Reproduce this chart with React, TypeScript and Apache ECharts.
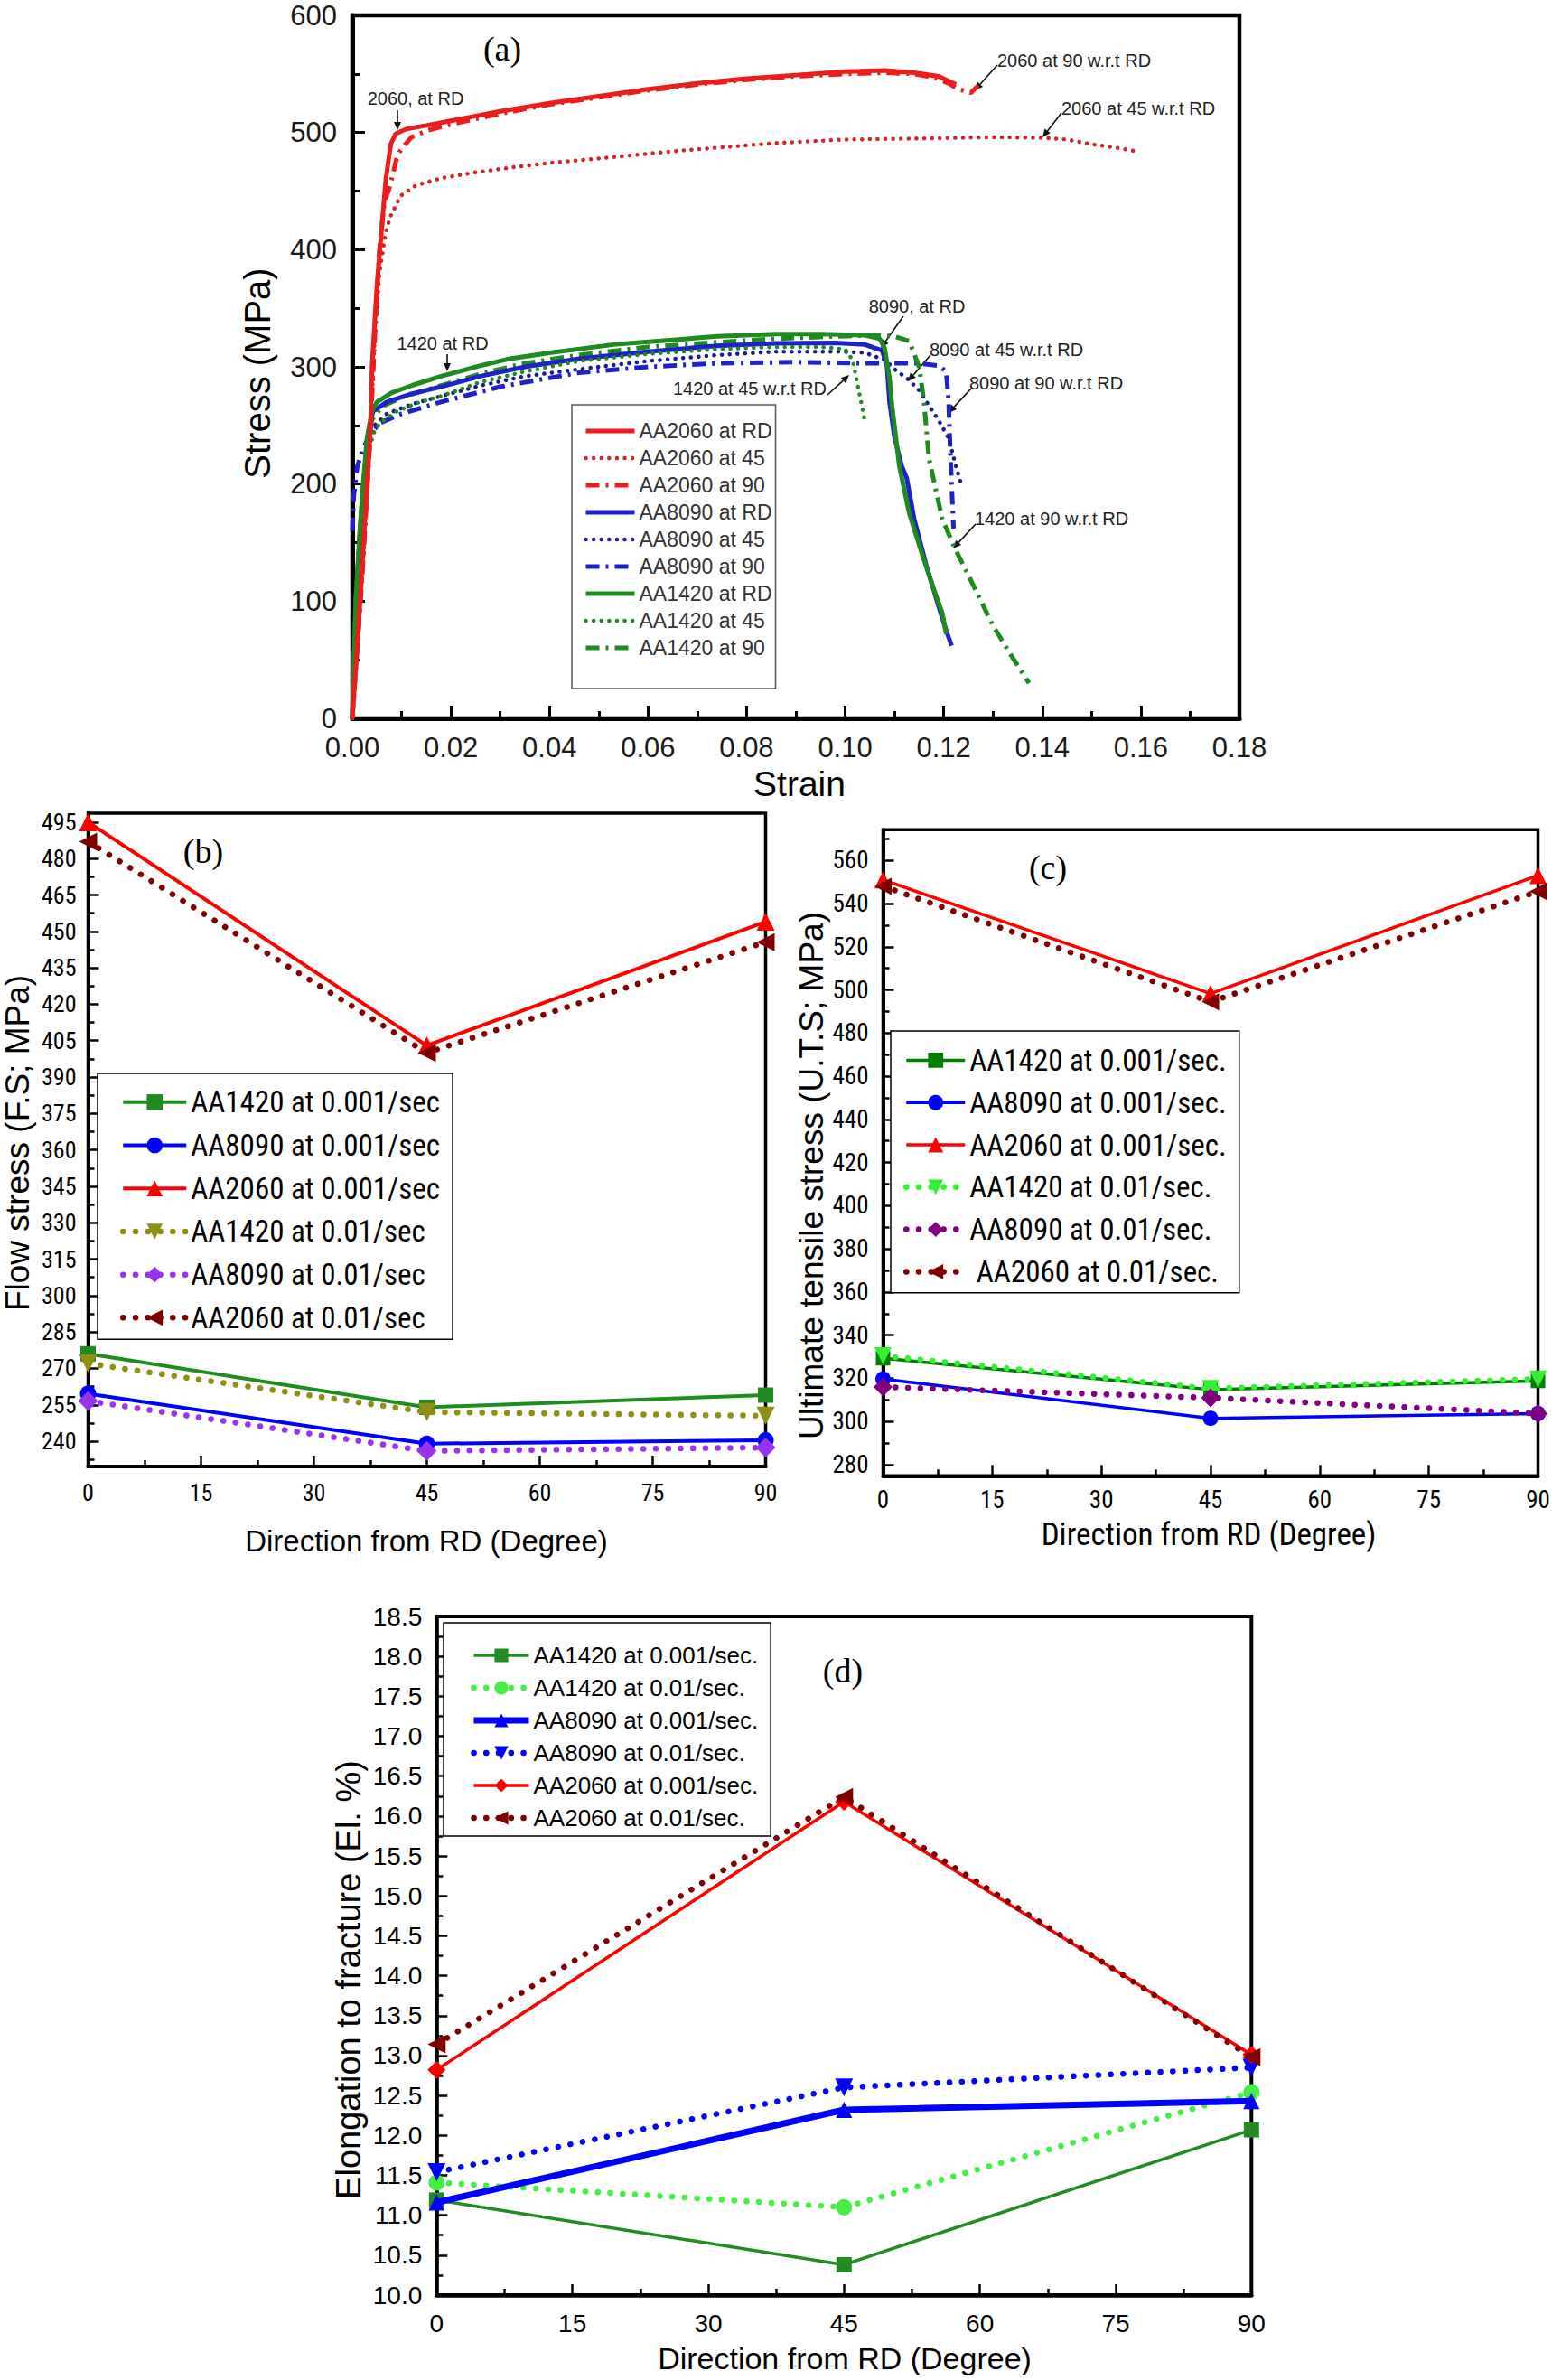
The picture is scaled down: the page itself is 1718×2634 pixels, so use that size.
import React, { useEffect, useRef } from 'react';
import * as echarts from 'echarts';

// ================= DATA =================
// Panel (a): engineering stress-strain curves, points are [strain, stress (MPa)]
const aa2060AtRD = [[0,0],[0.001,60],[0.002,130],[0.003,200],[0.0036,240],[0.004,300],[0.005,370],[0.0058,410],[0.0068,460],[0.0078,490],[0.0088,499],[0.011,503],[0.015,506],[0.02,510],[0.03,518],[0.04,525],[0.05,531],[0.06,537],[0.07,542],[0.08,546],[0.09,549],[0.1,552],[0.108,553],[0.114,551],[0.119,548],[0.1225,541]];
const aa2060At45 = [[0,0],[0.002,120],[0.0035,230],[0.0045,320],[0.0055,380],[0.0068,415],[0.0077,428],[0.0098,446],[0.013,455],[0.018,461],[0.025,466],[0.032,470],[0.04,474],[0.053,479],[0.065,484],[0.074,487],[0.086,491],[0.1,494],[0.117,495],[0.13,496],[0.14,495.5],[0.145,494],[0.15,490],[0.155,487],[0.159,484]];
const aa2060At90 = [[0,0],[0.002,120],[0.0035,230],[0.0045,320],[0.0055,400],[0.0065,440],[0.0077,455],[0.009,478],[0.0098,485],[0.012,496],[0.0154,502],[0.02,507],[0.03,516],[0.04,524],[0.05,530],[0.06,536],[0.07,541],[0.08,545],[0.09,548],[0.1,550],[0.108,551],[0.114,550],[0.118,547],[0.121,542],[0.123,537],[0.1255,534],[0.127,540]];
const aa8090AtRD = [[0,0],[0.0008,100],[0.0016,160],[0.0025,210],[0.0033,245],[0.0042,262],[0.007,270],[0.012,277],[0.018,283],[0.026,292],[0.035,300],[0.046,307],[0.06,313],[0.074,318],[0.086,320],[0.098,320.5],[0.104,319],[0.1075,314],[0.1085,300],[0.109,270],[0.11,240],[0.1115,215],[0.1125,205],[0.114,170],[0.1165,130],[0.119,95],[0.1205,75],[0.1216,62]];
const aa8090At45 = [[0,0],[0.001,90],[0.002,170],[0.003,225],[0.0045,250],[0.007,260],[0.012,268],[0.018,275],[0.026,284],[0.035,292],[0.046,298],[0.06,305],[0.074,310],[0.086,313],[0.098,313],[0.104,312],[0.108,306],[0.11,298],[0.1126,290],[0.115,280],[0.117,267],[0.119,254],[0.121,239],[0.1223,218],[0.1236,199]];
const aa8090At90 = [[0,160],[0.0003,190],[0.001,215],[0.0021,229],[0.0035,242],[0.0056,252],[0.01,260],[0.018,270],[0.03,283],[0.046,295],[0.06,300],[0.074,303],[0.09,304],[0.105,303],[0.115,303],[0.119,301],[0.1205,296],[0.121,270],[0.1213,230],[0.1217,190],[0.122,162]];
const aa1420AtRD = [[0,0],[0.0007,100],[0.0015,160],[0.0022,200],[0.003,240],[0.004,262],[0.005,270],[0.008,278],[0.012,284],[0.018,292],[0.026,301],[0.032,307],[0.04,312],[0.053,319],[0.065,323],[0.074,326],[0.086,328],[0.095,328],[0.104,327],[0.107,324],[0.108,316],[0.109,290],[0.1095,267],[0.111,215],[0.113,175],[0.1157,139],[0.118,110],[0.1197,90],[0.1205,72]];
const aa1420At45 = [[0,0],[0.0008,100],[0.0018,170],[0.003,225],[0.0045,245],[0.0056,252],[0.009,262],[0.013,269],[0.018,275],[0.026,287],[0.035,296],[0.046,305],[0.06,311],[0.074,315],[0.086,317],[0.095,317],[0.1,315],[0.1015,306],[0.102,296],[0.103,275],[0.1034,267],[0.104,253]];
const aa1420At90 = [[0,0],[0.0007,100],[0.0017,170],[0.0027,225],[0.004,255],[0.006,266],[0.01,274],[0.018,284],[0.026,294],[0.035,303],[0.046,310],[0.06,317],[0.074,321],[0.086,324],[0.098,326],[0.106,327],[0.11,326],[0.113,322],[0.115,300],[0.116,270],[0.117,222],[0.1197,170],[0.1223,145],[0.1263,111],[0.13,79],[0.1335,55],[0.1373,30]];

// Panels (b)-(d): direction from RD (degree)
const directions = [0, 45, 90];

// (b) Flow stress (MPa)
const fs1420Slow = [276, 254, 259];
const fs8090Slow = [259.6, 239, 240.4];
const fs2060Slow = [495, 403, 454];
const fs1420Fast = [272, 252, 250.5];
const fs8090Fast = [256.6, 236, 237.4];
const fs2060Fast = [487, 400, 445.6];
const fsTickLabels = [240, 255, 270, 285, 300, 315, 330, 345, 360, 375, 390, 405, 420, 435, 450, 465, 480, 495];

// (c) Ultimate tensile stress (MPa)
const uts1420Slow = [329.3, 314.8, 318.8];
const uts8090Slow = [319.7, 301.5, 303.7];
const uts2060Slow = [551, 498.3, 553];
const uts1420Fast = [330.4, 315.3, 319.7];
const uts8090Fast = [316, 311, 303.7];
const uts2060Fast = [548, 494.5, 545.6];
const utsTickLabels = [280, 300, 320, 340, 360, 380, 400, 420, 440, 460, 480, 500, 520, 540, 560];

// (d) Elongation to fracture (%)
const el1420Slow = [11.19, 10.38, 12.07];
const el1420Fast = [11.41, 11.10, 12.54];
const el8090Slow = [11.16, 12.32, 12.43];
const el8090Fast = [11.54, 12.60, 12.85];
const el2060Slow = [12.82, 16.18, 13.01];
const el2060Fast = [13.14, 16.24, 12.98];

// ================= STYLE HELPERS =================
const NARROW = "'Liberation Sans Narrow', 'Arial Narrow', 'Roboto Condensed', 'Liberation Sans', Arial, sans-serif";
const SANS = "'Liberation Sans', Arial, Helvetica, sans-serif";
const SERIF = "'Liberation Serif', 'Times New Roman', serif";

const pts = (vals: number[]) => directions.map((d, i) => [d, vals[i]]);

function arrowEls(x1: number, y1: number, x2: number, y2: number, ox = 0, oy = 0) {
  const ang = Math.atan2(y2 - y1, x2 - x1);
  const L = 9, W = 4;
  const bx = x2 - L * Math.cos(ang), by = y2 - L * Math.sin(ang);
  const nx = -Math.sin(ang) * W, ny = Math.cos(ang) * W;
  return [
    { type: 'line', silent: true, shape: { x1: x1 - ox, y1: y1 - oy, x2: bx - ox, y2: by - oy }, style: { stroke: '#111', lineWidth: 1.6 } },
    { type: 'polygon', silent: true, shape: { points: [[x2 - ox, y2 - oy], [bx + nx - ox, by + ny - oy], [bx - nx - ox, by - ny - oy]] }, style: { fill: '#111' } },
  ];
}

function textEl(text: string, x: number, y: number, fontSize: number, fontFamily: string, opts: any = {}) {
  return {
    type: 'text', silent: true, x, y, rotation: opts.rotation || 0,
    style: {
      text, fontSize, fontFamily, fill: opts.fill || '#000',
      align: opts.align || 'center', verticalAlign: 'middle',
    },
  };
}

function xAxisDeg(fontFamily: string, fontSize: number, margin: number, lw: number) {
  return {
    type: 'value', min: 0, max: 90, interval: 15,
    axisLine: { show: true, onZero: false, lineStyle: { color: '#000', width: lw } },
    axisTick: { show: true, inside: true, length: 12, lineStyle: { color: '#000', width: 2.5 } },
    minorTick: { show: true, splitNumber: 2, length: 7, lineStyle: { color: '#000', width: 2.5 } },
    axisLabel: { fontFamily, fontSize, color: '#000', margin },
    splitLine: { show: false }, minorSplitLine: { show: false },
  };
}

function customY(min: number, max: number, labels: number[], minors: number[], fontFamily: string, fontSize: number, margin: number, lw: number) {
  return [
    {
      type: 'value', min, max, position: 'left',
      axisLine: { show: true, onZero: false, lineStyle: { color: '#000', width: lw } },
      axisTick: { show: true, inside: true, length: 12, customValues: labels, lineStyle: { color: '#000', width: 2.5 } },
      axisLabel: { customValues: labels, fontFamily, fontSize, color: '#000', margin },
      splitLine: { show: false },
    },
    {
      type: 'value', min, max, position: 'left',
      axisLine: { show: false },
      axisTick: { show: true, inside: true, length: 7, customValues: minors, lineStyle: { color: '#000', width: 2.5 } },
      axisLabel: { show: false },
      splitLine: { show: false },
    },
  ];
}

function halfSteps(labels: number[], min: number, max: number) {
  const step = labels[1] - labels[0];
  const out: number[] = [];
  for (let v = labels[0] - step / 2; v <= max; v += step) if (v >= min) out.push(v);
  return out;
}

function markerSeries(name: string, vals: number[], color: string, symbol: string, rotate: number, dotted: boolean, width: number, size: number, z: number) {
  return {
    name, type: 'line', data: pts(vals), symbol, symbolSize: size, symbolRotate: rotate,
    lineStyle: dotted ? { color, width, type: [0.1, width * 2.1], cap: 'round' } : { color, width },
    itemStyle: { color }, z, silent: true,
  };
}

// ================= PANEL (a) =================
function optionA() {
  const RED = '#ec1d1d', RED2 = '#d42626', GREEN = '#1f8a1f', BLUE = '#1f22c8', NAVY = '#1b1b8e';
  const solid = (c: string) => ({ color: c, width: 5 });
  const dot = (c: string) => ({ color: c, width: 4.5, type: [0.1, 8.5], cap: 'round' });
  const dashdot = (c: string) => ({ color: c, width: 5, type: [15, 7, 3, 7] });
  const s = (name: string, data: number[][], ls: any, z: number) => ({
    name, type: 'line', data, symbol: 'none', showSymbol: false, lineStyle: ls, itemStyle: { color: ls.color }, z, silent: true,
  });
  const graphic: any[] = [
    textEl('(a)', 556, 54, 38, SERIF),
    textEl('Stress (MPa)', 285, 413, 40, SANS, { rotation: Math.PI / 2 }),
    textEl('Strain', 885, 867, 39, SANS),
    textEl('2060, at RD', 460, 109, 20, SANS, { fill: '#222' }),
    textEl('1420 at RD', 490, 380, 20, SANS, { fill: '#222' }),
    textEl('2060 at 90 w.r.t RD', 1104, 67, 20, SANS, { align: 'left', fill: '#222' }),
    textEl('2060 at 45 w.r.t RD', 1175, 120, 20, SANS, { align: 'left', fill: '#222' }),
    textEl('8090, at RD', 1015, 339, 20, SANS, { fill: '#222' }),
    textEl('8090 at 45 w.r.t RD', 1029, 387, 20, SANS, { align: 'left', fill: '#222' }),
    textEl('8090 at 90 w.r.t RD', 1073, 424, 20, SANS, { align: 'left', fill: '#222' }),
    textEl('1420 at 90 w.r.t RD', 1079, 574, 20, SANS, { align: 'left', fill: '#222' }),
    textEl('1420 at 45 w.r.t RD', 915, 430, 20, SANS, { align: 'right', fill: '#222' }),
    ...arrowEls(440, 122, 440, 144),
    ...arrowEls(495, 392, 495, 411),
    ...arrowEls(1104, 72, 1079, 100),
    ...arrowEls(1175, 125, 1154, 152),
    ...arrowEls(1000, 350, 975, 385),
    ...arrowEls(1030, 393, 1005, 422),
    ...arrowEls(1075, 430, 1050, 457),
    ...arrowEls(1080, 580, 1055, 607),
    ...arrowEls(916, 437, 940, 415),
  ];
  return {
    animation: false,
    backgroundColor: 'transparent',
    grid: { left: 390, top: 17, width: 982, height: 778, show: true, borderColor: '#000', borderWidth: 4.5, containLabel: false, outerBoundsMode: 'none' },
    xAxis: {
      type: 'value', min: 0, max: 0.18, interval: 0.02,
      axisLine: { show: true, onZero: false, lineStyle: { color: '#000', width: 5 } },
      axisTick: { show: true, inside: true, length: 14, lineStyle: { color: '#000', width: 3 } },
      minorTick: { show: true, splitNumber: 2, length: 8, lineStyle: { color: '#000', width: 3 } },
      axisLabel: { fontFamily: SANS, fontSize: 31, color: '#1a1a1a', margin: 17, formatter: (v: number) => v.toFixed(2) },
      splitLine: { show: false },
    },
    yAxis: {
      type: 'value', min: 0, max: 600, interval: 100,
      axisLine: { show: true, onZero: false, lineStyle: { color: '#000', width: 5 } },
      axisTick: { show: true, inside: true, length: 14, lineStyle: { color: '#000', width: 3 } },
      minorTick: { show: true, splitNumber: 2, length: 8, lineStyle: { color: '#000', width: 3 } },
      axisLabel: { fontFamily: SANS, fontSize: 31, color: '#1a1a1a', margin: 17 },
      splitLine: { show: false },
    },
    legend: {
      orient: 'vertical', left: 633, top: 448, padding: [14, 4, 30, 13],
      itemWidth: 54, itemHeight: 10, itemGap: 0, selectedMode: false,
      borderColor: '#555', borderWidth: 1.5, backgroundColor: '#fff',
      itemStyle: { opacity: 0 },
      lineStyle: { width: 'inherit' },
      textStyle: { fontFamily: SANS, fontSize: 23, color: '#333', lineHeight: 30 },
      data: ['AA2060 at RD', 'AA2060 at 45', 'AA2060 at 90', 'AA8090 at RD', 'AA8090 at 45', 'AA8090 at 90', 'AA1420 at RD', 'AA1420 at 45', 'AA1420 at 90'],
    },
    series: [
      s('AA2060 at RD', aa2060AtRD, solid(RED), 9),
      s('AA2060 at 45', aa2060At45, dot(RED2), 8),
      s('AA2060 at 90', aa2060At90, dashdot(RED), 7),
      s('AA8090 at RD', aa8090AtRD, solid(BLUE), 5),
      s('AA8090 at 45', aa8090At45, dot(NAVY), 4),
      s('AA8090 at 90', aa8090At90, dashdot(BLUE), 3),
      s('AA1420 at RD', aa1420AtRD, solid(GREEN), 6),
      s('AA1420 at 45', aa1420At45, dot(GREEN), 5),
      s('AA1420 at 90', aa1420At90, dashdot(GREEN), 4),
    ],
    graphic: { elements: graphic },
  };
}

// ================= PANEL (b) =================
function optionB() {
  const ox = 0, oy = 890;
  const min = 229.6, max = 498.7;
  return {
    animation: false,
    grid: { left: 97.5, top: 10, width: 750, height: 723, show: true, borderColor: '#000', borderWidth: 3.5, containLabel: false, outerBoundsMode: 'none' },
    xAxis: xAxisDeg(NARROW, 26, 16, 4),
    yAxis: customY(min, max, fsTickLabels, halfSteps(fsTickLabels, min, max), NARROW, 26, 13, 4),
    legend: {
      orient: 'vertical', left: 108 - ox, top: 1188 - oy, padding: [8, 14, 0, 25],
      itemWidth: 70, itemHeight: 22, itemGap: 0, selectedMode: false,
      borderColor: '#000', borderWidth: 1.5, backgroundColor: '#fff',
      lineStyle: { width: 'inherit' },
      textStyle: { fontFamily: NARROW, fontSize: 33, color: '#000', lineHeight: 47.7 },
      data: ['AA1420 at 0.001/sec', 'AA8090 at 0.001/sec', 'AA2060 at 0.001/sec', 'AA1420 at 0.01/sec', 'AA8090 at 0.01/sec', 'AA2060 at 0.01/sec'],
    },
    series: [
      markerSeries('AA1420 at 0.001/sec', fs1420Slow, '#1f8c1f', 'rect', 0, false, 4, 17, 5),
      markerSeries('AA8090 at 0.001/sec', fs8090Slow, '#0000ff', 'circle', 0, false, 4, 18, 5),
      markerSeries('AA2060 at 0.001/sec', fs2060Slow, '#ff0000', 'triangle', 0, false, 4, 20, 5),
      markerSeries('AA1420 at 0.01/sec', fs1420Fast, '#8f8f12', 'triangle', 180, true, 6.5, 20, 6),
      markerSeries('AA8090 at 0.01/sec', fs8090Fast, '#9933ee', 'diamond', 0, true, 6.5, 22, 6),
      markerSeries('AA2060 at 0.01/sec', fs2060Fast, '#800000', 'triangle', 90, true, 6.5, 20, 6),
    ],
    graphic: {
      elements: [
        textEl('(b)', 225, 942 - oy, 38, SERIF),
        textEl('Flow stress (F.S; MPa)', 19, 1265 - oy, 37, SANS, { rotation: Math.PI / 2 }),
        textEl('Direction from RD (Degree)', 472, 1705 - oy, 33, SANS),
      ],
    },
  };
}

// ================= PANEL (c) =================
function optionC() {
  const ox = 870, oy = 890;
  const min = 274.85, max = 574.2;
  return {
    animation: false,
    grid: { left: 107.5, top: 28.3, width: 725, height: 715, show: true, borderColor: '#000', borderWidth: 3.5, containLabel: false, outerBoundsMode: 'none' },
    xAxis: xAxisDeg(NARROW, 27, 13, 4),
    yAxis: customY(min, max, utsTickLabels, halfSteps(utsTickLabels, min, max), NARROW, 27, 16, 4),
    legend: {
      orient: 'vertical', left: 986 - ox, top: 1141 - oy, padding: [9, 14, 0, 14],
      itemWidth: 65, itemHeight: 21, itemGap: 0, selectedMode: false,
      borderColor: '#000', borderWidth: 1.5, backgroundColor: '#fff',
      lineStyle: { width: 'inherit' },
      textStyle: { fontFamily: NARROW, fontSize: 33, color: '#000', lineHeight: 46.8 },
      data: ['AA1420 at 0.001/sec.', 'AA8090 at 0.001/sec.', 'AA2060 at 0.001/sec.', 'AA1420 at 0.01/sec.', 'AA8090 at 0.01/sec.', ' AA2060 at 0.01/sec.'],
    },
    series: [
      markerSeries('AA1420 at 0.001/sec.', uts1420Slow, '#008000', 'rect', 0, false, 3.5, 16, 5),
      markerSeries('AA8090 at 0.001/sec.', uts8090Slow, '#0000ff', 'circle', 0, false, 3.5, 17, 5),
      markerSeries('AA2060 at 0.001/sec.', uts2060Slow, '#ff0000', 'triangle', 0, false, 3.5, 19, 5),
      markerSeries('AA1420 at 0.01/sec.', uts1420Fast, '#33ee33', 'triangle', 180, true, 6.5, 19, 6),
      markerSeries('AA8090 at 0.01/sec.', uts8090Fast, '#800080', 'diamond', 0, true, 6.5, 21, 6),
      markerSeries(' AA2060 at 0.01/sec.', uts2060Fast, '#800000', 'triangle', 90, true, 6.5, 19, 6),
    ],
    graphic: {
      elements: [
        textEl('(c)', 1160 - ox, 960 - oy, 38, SERIF),
        textEl('Ultimate tensile stress (U.T.S; MPa)', 898 - ox, 1301 - oy, 37, SANS, { rotation: Math.PI / 2 }),
        textEl('Direction from RD (Degree)', 1338 - ox, 1698 - oy, 35, NARROW),
      ],
    },
  };
}

// ================= PANEL (d) =================
function optionD() {
  const ox = 0, oy = 1740;
  return {
    animation: false,
    grid: { left: 483.3, top: 49, width: 902, height: 751, show: true, borderColor: '#000', borderWidth: 4, containLabel: false, outerBoundsMode: 'none' },
    xAxis: xAxisDeg(SANS, 28, 17, 4.5),
    yAxis: {
      type: 'value', min: 10, max: 18.5, interval: 0.5,
      axisLine: { show: true, onZero: false, lineStyle: { color: '#000', width: 4.5 } },
      axisTick: { show: true, inside: true, length: 12, lineStyle: { color: '#000', width: 2.5 } },
      minorTick: { show: true, splitNumber: 2, length: 7, lineStyle: { color: '#000', width: 2.5 } },
      axisLabel: { fontFamily: SANS, fontSize: 28, color: '#000', margin: 16, formatter: (v: number) => v.toFixed(1) },
      splitLine: { show: false }, minorSplitLine: { show: false },
    },
    legend: {
      orient: 'vertical', left: 491 - ox, top: 1796 - oy, padding: [18, 14, 2, 30],
      itemWidth: 61, itemHeight: 19, itemGap: 0, selectedMode: false,
      borderColor: '#000', borderWidth: 1.5, backgroundColor: '#fff',
      lineStyle: { width: 'inherit' },
      textStyle: { fontFamily: SANS, fontSize: 26, color: '#000', lineHeight: 36 },
      data: ['AA1420 at 0.001/sec.', 'AA1420 at 0.01/sec.', 'AA8090 at 0.001/sec.', 'AA8090 at 0.01/sec.', 'AA2060 at 0.001/sec.', 'AA2060 at 0.01/sec.'],
    },
    series: [
      markerSeries('AA1420 at 0.001/sec.', el1420Slow, '#228b22', 'rect', 0, false, 3.5, 17, 5),
      markerSeries('AA1420 at 0.01/sec.', el1420Fast, '#44ee44', 'circle', 0, true, 6.5, 18, 5),
      markerSeries('AA8090 at 0.001/sec.', el8090Slow, '#0000ff', 'triangle', 0, false, 7, 18, 6),
      markerSeries('AA8090 at 0.01/sec.', el8090Fast, '#0000ff', 'triangle', 180, true, 6.5, 20, 6),
      markerSeries('AA2060 at 0.001/sec.', el2060Slow, '#ff0000', 'diamond', 0, false, 3.5, 20, 7),
      markerSeries('AA2060 at 0.01/sec.', el2060Fast, '#800000', 'triangle', 90, true, 6.5, 20, 8),
    ],
    graphic: {
      elements: [
        textEl('(d)', 933 - ox, 1849 - oy, 38, SERIF),
        textEl('Elongation to fracture (El. %)', 386 - ox, 2191 - oy, 38, SANS, { rotation: Math.PI / 2 }),
        textEl('Direction from RD (Degree)', 935 - ox, 2610 - oy, 34, SANS),
      ],
    },
  };
}

// ================= COMPONENTS =================
function Panel({ left, top, width, height, build }: { left: number; top: number; width: number; height: number; build: () => any }) {
  const ref = useRef<HTMLDivElement>(null);
  useEffect(() => {
    if (!ref.current) return;
    const chart = echarts.init(ref.current, null, { renderer: 'svg' });
    chart.setOption(build());
    return () => chart.dispose();
  }, []);
  return <div ref={ref} style={{ position: 'absolute', left, top, width, height }} />;
}

export default function App() {
  return (
    <div style={{ position: 'absolute', left: 0, top: 0, width: 1718, height: 2634, background: '#fff', overflow: 'hidden' }}>
      <Panel left={0} top={0} width={1718} height={890} build={optionA} />
      <Panel left={0} top={890} width={870} height={850} build={optionB} />
      <Panel left={870} top={890} width={848} height={850} build={optionC} />
      <Panel left={0} top={1740} width={1718} height={894} build={optionD} />
    </div>
  );
}
